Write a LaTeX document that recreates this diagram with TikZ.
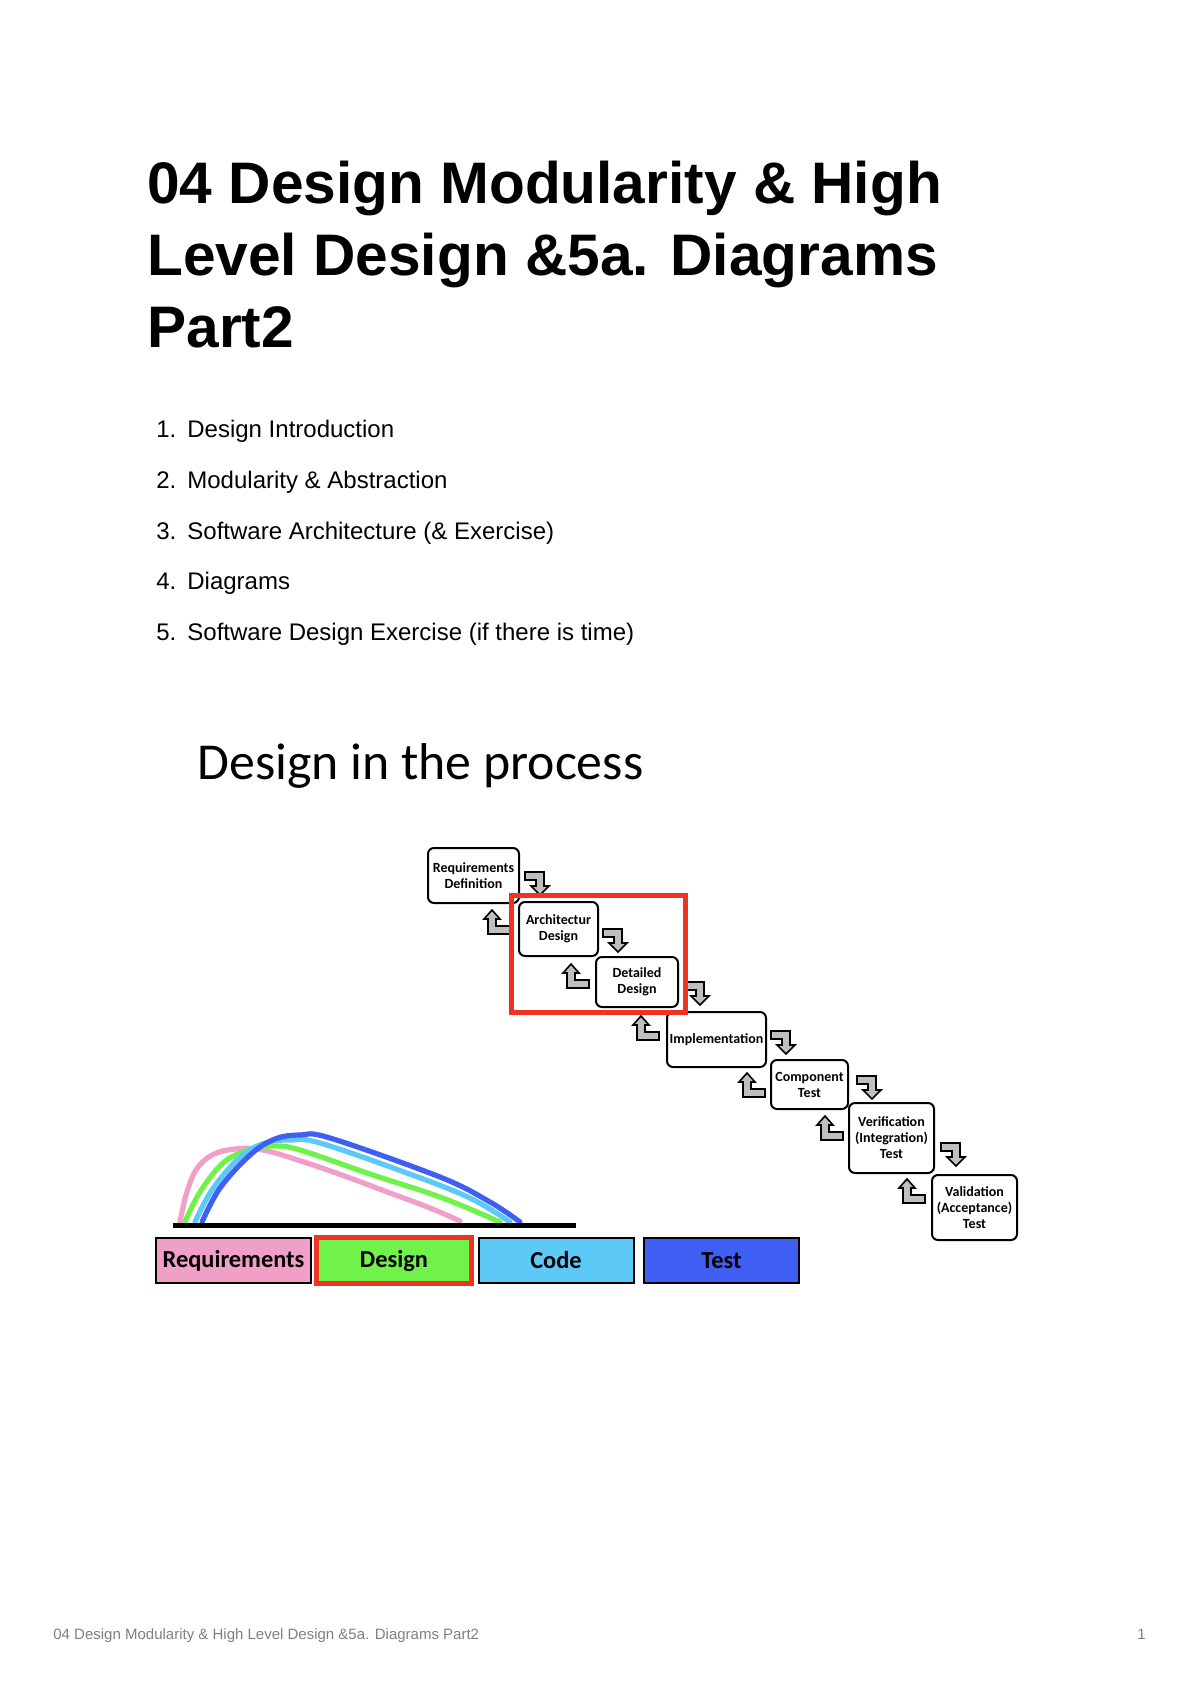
\documentclass[tikz,border=0pt]{standalone}
\usepackage{fontspec}
\setmainfont{Liberation Sans}
\newfontfamily\calibri{Carlito}
\definecolor{pinkc}{HTML}{F19FC9}
\definecolor{greenc}{HTML}{70F24A}
\definecolor{cyanc}{HTML}{5DC9F7}
\definecolor{bluec}{HTML}{3F5FF2}
\definecolor{redc}{HTML}{EE3224}
\definecolor{arrowgray}{HTML}{BFBFBF}
\definecolor{footgray}{HTML}{808080}
\tikzset{
  titletext/.style={anchor=base west, inner sep=0pt, font=\fontsize{29.3}{35}\selectfont\bfseries},
  listtext/.style={anchor=base west, inner sep=0pt, font=\fontsize{12}{14}\selectfont},
  wbox/.style={draw, line width=1pt, rounded corners=3pt, fill=white, align=center, inner sep=0pt,
    font=\calibri\bfseries\fontsize{7}{8}\selectfont},
  phase/.style={draw, line width=1pt, inner sep=0pt, font=\calibri\bfseries\fontsize{12.2}{14}\selectfont,
    minimum width=77.5pt, minimum height=22.5pt},
  curve/.style={line width=2.6pt, line cap=round, smooth, tension=0.6},
  blockarrow/.style={draw, line width=0.8pt, fill=arrowgray, line join=miter},
  downarr/.pic={\path[blockarrow] (0,0) -- (19,0) -- (19,14) -- (24,14) -- (15,23) -- (6,14) -- (11,14) -- (11,8) -- (0,8) -- cycle;},
  uparr/.pic={\path[blockarrow] (8,0) -- (16,9) -- (12,9) -- (12,16) -- (26,16) -- (26,24) -- (4,24) -- (4,9) -- (0,9) -- cycle;}
}
\begin{document}
\begin{tikzpicture}[x=0.5pt,y=-0.5pt]
\fill[white] (0,0) rectangle (1200,1697);
\useasboundingbox (0,0) rectangle (1200,1697);

% title
\node[titletext] (t1) at (147,203) {04 Design Modularity \& High};
\node[titletext] (t2) at (147,275) {Level Design \&5a. Diagrams};
\node[titletext] (t3) at (147,347) {Part2};

% list
\node[listtext] (n1) at (156,437) {1.};
\node[listtext] (l1) at (187,437) {Design Introduction};
\node[listtext] (n2) at (156,488) {2.};
\node[listtext] (l2) at (187,488) {Modularity \& Abstraction};
\node[listtext] (n3) at (156,539) {3.};
\node[listtext] (l3) at (187,539) {Software Architecture (\& Exercise)};
\node[listtext] (n4) at (156,589) {4.};
\node[listtext] (l4) at (187,589) {Diagrams};
\node[listtext] (n5) at (156,640) {5.};
\node[listtext] (l5) at (187,640) {Software Design Exercise (if there is time)};

% subtitle
\node[anchor=base west, inner sep=0pt, font=\calibri\fontsize{25.9}{30}\selectfont] (sub) at (197,779) {Design in the process};

% block arrows
\pic at (525,872) {downarr};
\pic at (603,929) {downarr};
\pic at (685,982) {downarr};
\pic at (771,1031) {downarr};
\pic at (857,1076) {downarr};
\pic at (941,1143) {downarr};
\pic at (484,910) {uparr};
\pic at (563,964) {uparr};
\pic at (633,1016) {uparr};
\pic at (739,1073) {uparr};
\pic at (817,1116) {uparr};
\pic at (899,1179) {uparr};

% waterfall boxes
\node[wbox, minimum width=45.5pt, minimum height=27.5pt] (rd) at (473.5,875.5) {Requirements\\Definition};
\node[wbox, minimum width=39.5pt, minimum height=27pt] (ad) at (558.5,929) {Architectur\\Design};
\node[wbox, minimum width=41pt, minimum height=25pt] (dd) at (637,982) {Detailed\\Design};
\node[wbox, minimum width=49.5pt, minimum height=27.5pt] (im) at (716.5,1039.5) {Implementation};
\node[wbox, minimum width=38.5pt, minimum height=24.5pt] (ct) at (809.5,1084.5) {Component\\Test};
\node[wbox, minimum width=42.5pt, minimum height=35pt] (vt) at (891.5,1138) {Verification\\(Integration)\\Test};
\node[wbox, minimum width=42.5pt, minimum height=32.5pt] (va) at (974.5,1207.5) {Validation\\(Acceptance)\\Test};

% red highlight
\node[draw=redc, line width=2.5pt, inner sep=0pt, minimum width=87pt, minimum height=58.5pt] (hl) at (598,953.5) {};

% curves
\draw[curve, pinkc] plot coordinates {(180,1222) (186,1195) (196,1170) (212,1155) (235,1149) (263,1150) (307,1163) (350,1178) (390,1193) (430,1208) (460,1221)};
\draw[curve, greenc] plot coordinates {(185,1222) (200,1192) (223,1163) (248,1150) (273,1146) (300,1150) (373,1175) (440,1197) (500,1222)};
\draw[curve, cyanc] plot coordinates {(195,1222) (212,1190) (240,1157) (265,1143) (290,1140) (320,1143) (407,1173) (470,1198) (510,1222)};
\draw[curve, bluec] plot coordinates {(202,1222) (220,1188) (250,1155) (275,1139) (300,1135) (330,1138) (440,1177) (490,1202) (520,1222)};

% base line
\coordinate (bl1) at (173,1225.5);
\coordinate (bl2) at (576,1225.5);
\draw[line width=2.5pt] (bl1) -- (bl2);

% phases
\node[phase, fill=pinkc] (preq) at (233.5,1260.5) {Requirements};
\node[phase, fill=greenc, draw=redc, line width=2.5pt, minimum height=23pt] (pdes) at (394,1260.5) {Design};
\node[phase, fill=cyanc] (pcode) at (556,1260.5) {Code};
\node[phase, fill=bluec] (ptest) at (721.5,1260.5) {Test};

% footer
\node[anchor=base west, inner sep=0pt, font=\fontsize{7.5}{9}\selectfont, text=footgray] (foot) at (53,1639) {04 Design Modularity \& High Level Design \&5a. Diagrams Part2};
\node[anchor=base east, inner sep=0pt, font=\fontsize{7.5}{9}\selectfont, text=footgray] (pg) at (1146,1639) {1};
\end{tikzpicture}
\end{document}
